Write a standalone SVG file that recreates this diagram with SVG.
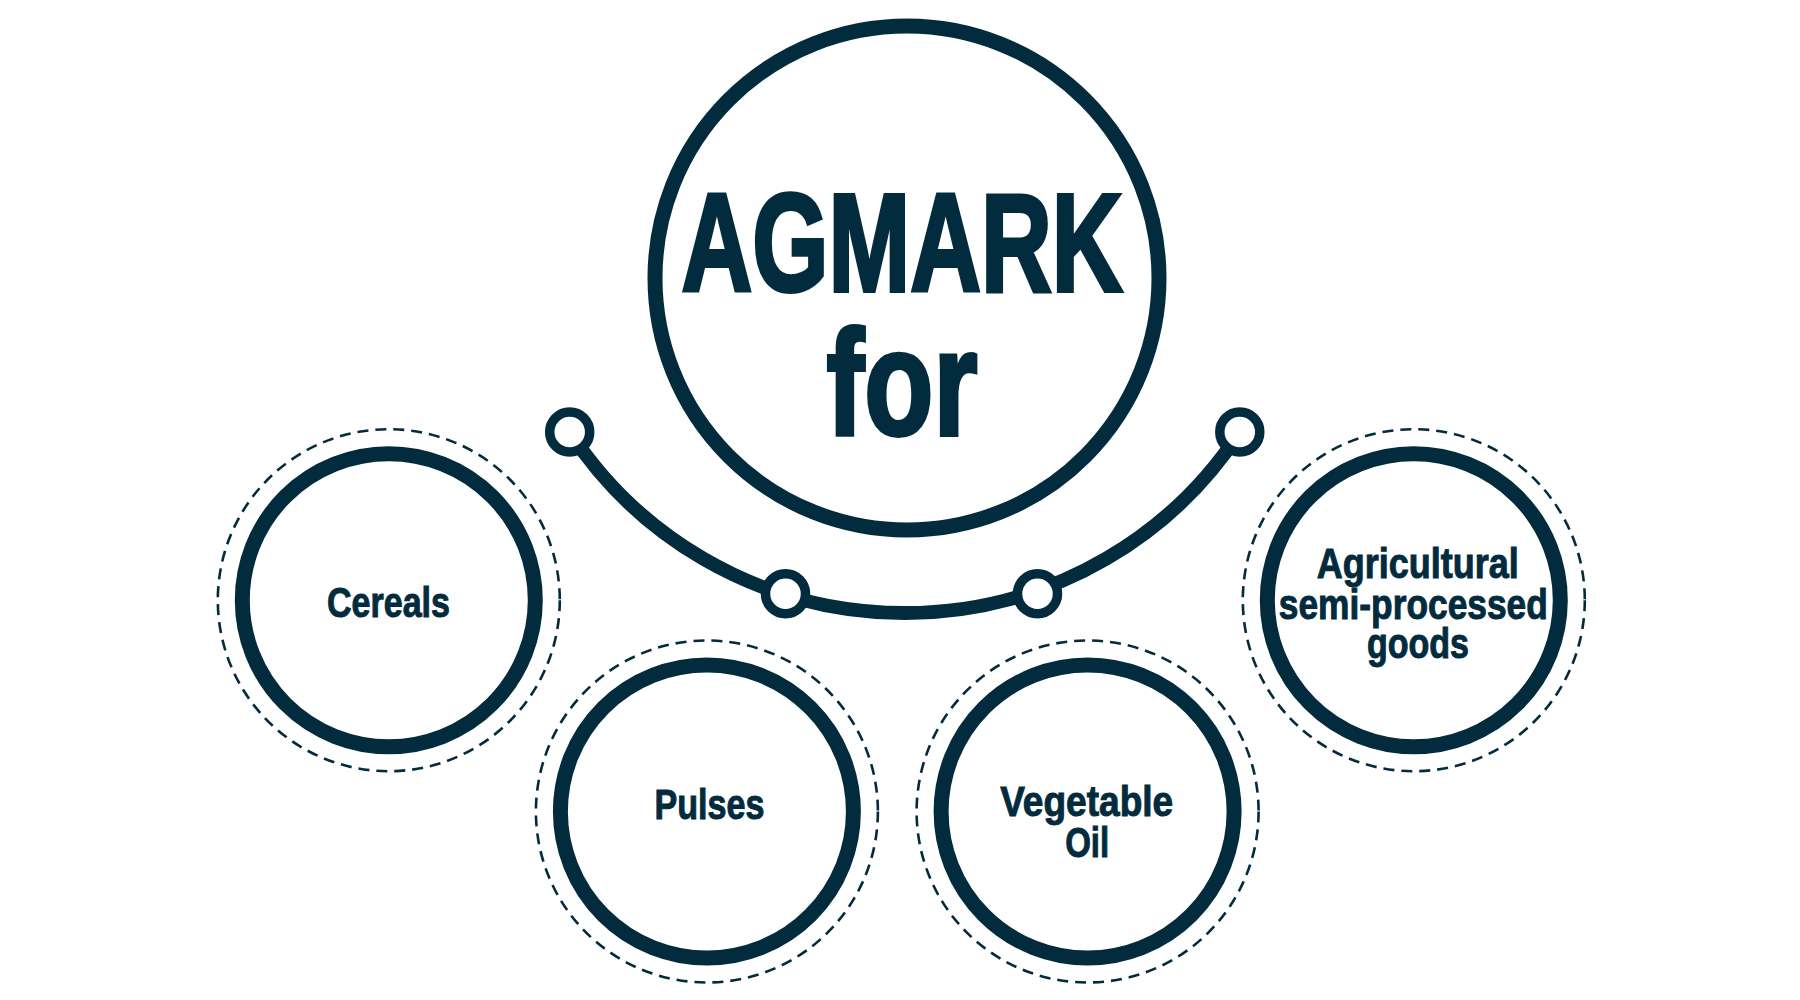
<svg xmlns="http://www.w3.org/2000/svg" width="1800" height="1000" viewBox="0 0 1800 1000">
  <style>
    .ring { fill: #ffffff; stroke: #032b3e; stroke-width: 15; }
    .dash { fill: none; stroke: #032b3e; stroke-width: 2.6; stroke-dasharray: 11 7; }
    .joint { fill: #ffffff; stroke: #032b3e; stroke-width: 9.5; }
    .arc { fill: none; stroke: #032b3e; stroke-width: 14; }
    .lbl { font-family: "Liberation Sans Narrow", "Liberation Sans", "DejaVu Sans Condensed", sans-serif; font-weight: bold; fill: #032b3e; stroke: #032b3e; text-anchor: middle; }
    .small { font-size: 43px; stroke-width: 1; }
    .big { font-size: 140px; stroke-width: 4; }
  </style>
  <rect width="1800" height="1000" fill="#ffffff"/>

  <g id="connectors">
    <path class="arc" d="M 569.7 432 A 400.5 400.5 0 0 0 1239.8 432"/>
    <circle class="joint" cx="569.7" cy="432" r="20"/>
    <circle class="joint" cx="785.5" cy="593.8" r="20"/>
    <circle class="joint" cx="1037.5" cy="593.8" r="20"/>
    <circle class="joint" cx="1239.8" cy="432" r="20"/>
  </g>

  <g id="hub">
    <circle class="ring" cx="907" cy="278" r="252"/>
    <text class="lbl big" x="902" y="291" textLength="441" lengthAdjust="spacingAndGlyphs">AGMARK</text>
    <text class="lbl big" x="902" y="435" textLength="151" lengthAdjust="spacingAndGlyphs" style="font-size:150px">for</text>
  </g>

  <g id="cereals">
    <circle class="dash" cx="388.8" cy="600.2" r="171"/>
    <circle class="ring" cx="388.8" cy="600.2" r="146.5"/>
    <text class="lbl small" x="388.5" y="617" textLength="123" lengthAdjust="spacingAndGlyphs">Cereals</text>
  </g>

  <g id="pulses">
    <circle class="dash" cx="706.9" cy="811.5" r="171"/>
    <circle class="ring" cx="706.9" cy="811.5" r="146.5"/>
    <text class="lbl small" x="709.5" y="819" textLength="110" lengthAdjust="spacingAndGlyphs">Pulses</text>
  </g>

  <g id="vegetable-oil">
    <circle class="dash" cx="1087.6" cy="811.5" r="171"/>
    <circle class="ring" cx="1087.6" cy="811.5" r="146.5"/>
    <text class="lbl small" x="1086.7" y="816" textLength="173" lengthAdjust="spacingAndGlyphs">Vegetable</text>
    <text class="lbl small" x="1087.2" y="857" textLength="44" lengthAdjust="spacingAndGlyphs">Oil</text>
  </g>

  <g id="agricultural-semi-processed-goods">
    <circle class="dash" cx="1413.8" cy="600.2" r="171"/>
    <circle class="ring" cx="1413.8" cy="600.2" r="146.5"/>
    <text class="lbl small" x="1417.7" y="578" textLength="202" lengthAdjust="spacingAndGlyphs">Agricultural</text>
    <text class="lbl small" x="1413.3" y="619" textLength="269" lengthAdjust="spacingAndGlyphs">semi-processed</text>
    <text class="lbl small" x="1418" y="658" textLength="102" lengthAdjust="spacingAndGlyphs">goods</text>
  </g>
</svg>
